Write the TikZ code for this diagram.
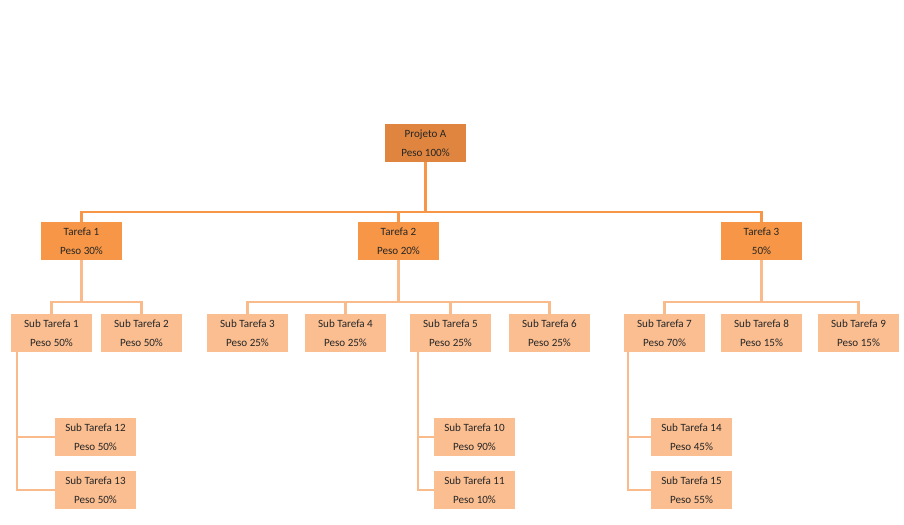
\documentclass[tikz,border=0pt]{standalone}
\usepackage{fontspec}
\setmainfont{Carlito}
\begin{document}
\begin{tikzpicture}[x=0.75pt,y=-0.75pt,
 box/.style={minimum width=60.75pt,minimum height=28.5pt,inner sep=0pt,align=center,font=\fontsize{8.3}{14}\selectfont,text=black!85},
 top/.style={box,fill={rgb,255:red,224;green,133;blue,63}},
 lvl1/.style={box,fill={rgb,255:red,247;green,150;blue,70}},
 lvl2/.style={box,fill={rgb,255:red,250;green,190;blue,145}},
 l1/.style={draw={rgb,255:red,247;green,150;blue,70},line width=2.2pt},
 l2/.style={draw={rgb,255:red,249;green,186;blue,140},line width=2.2pt}]
\useasboundingbox (0,0) rectangle (904,525);
\node[top] (p) at (425.5,143) {Projeto A\\Peso 100\%};
\node[lvl1] (t1) at (81.5,241) {Tarefa 1\\Peso 30\%};
\node[lvl1] (t2) at (398.5,241) {Tarefa 2\\Peso 20\%};
\node[lvl1] (t3) at (761.5,241) {Tarefa 3\\50\%};
\foreach \n/\x/\t in {s1/51.5/Sub Tarefa 1\\Peso 50\%, s2/141.5/Sub Tarefa  2\\Peso 50\%, s3/247.5/Sub Tarefa 3\\Peso 25\%, s4/345.5/Sub Tarefa 4\\Peso 25\%, s5/450.5/Sub Tarefa 5\\Peso 25\%, s6/549.5/Sub Tarefa 6\\Peso 25\%, s7/664.5/Sub Tarefa 7\\Peso 70\%, s8/761.5/Sub Tarefa 8\\Peso 15\%, s9/858.5/Sub Tarefa 9\\Peso 15\%}
  \node[lvl2] (\n) at (\x,333) {\t};
\node[lvl2] (s12) at (95.5,437) {Sub Tarefa 12\\Peso 50\%};
\node[lvl2] (s13) at (95.5,490) {Sub Tarefa 13\\Peso 50\%};
\node[lvl2] (s10) at (474.5,437) {Sub Tarefa 10\\Peso 90\%};
\node[lvl2] (s11) at (474.5,490) {Sub Tarefa 11\\Peso 10\%};
\node[lvl2] (s14) at (691.5,437) {Sub Tarefa 14\\Peso 45\%};
\node[lvl2] (s15) at (691.5,490) {Sub Tarefa 15\\Peso 55\%};
% level 1 connectors
\draw[l1] (p.south) -- (425.5,212) -| (t1.north);
\draw[l1] (425.5,212) -| (t3.north);
\draw[l1] (t2.north) -- (398.5,212);
% level 2 connectors
\draw[l2] (t1.south) -- (81.5,302) -| (s1.north);
\draw[l2] (81.5,302) -| (s2.north);
\draw[l2] (t2.south) -- (398.5,302) -| (s3.north);
\draw[l2] (398.5,302) -| (s6.north);
\draw[l2] (s4.north) -- (345.5,302);
\draw[l2] (s5.north) -- (450.5,302);
\draw[l2] (t3.south) -- (761.5,302) -| (s7.north);
\draw[l2] (761.5,302) -| (s9.north);
% level 3 connectors
\draw[l2] (17,352) |- (s13.west);
\draw[l2] (17,437) -- (s12.west);
\draw[l2] (418,352) |- (s11.west);
\draw[l2] (418,437) -- (s10.west);
\draw[l2] (628,352) |- (s15.west);
\draw[l2] (628,437) -- (s14.west);
\end{tikzpicture}
\end{document}
